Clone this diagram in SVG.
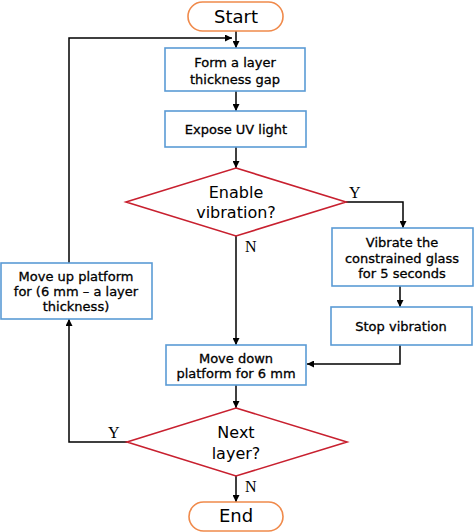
<svg xmlns="http://www.w3.org/2000/svg" width="474" height="532" viewBox="0 0 474 532">
<style>
.term{fill:#fff;stroke:#f08a4b;stroke-width:1.6}
.box{fill:#fff;stroke:#5b9bd5;stroke-width:1.6}
.dia{fill:#fff;stroke:#c8202f;stroke-width:1.6}
.bt{font-family:"DejaVu Sans",Verdana,sans-serif;font-size:13px;fill:#000;stroke:#000;stroke-width:0.3;text-anchor:middle}
.dt{font-family:"DejaVu Sans",Verdana,sans-serif;font-size:16px;fill:#000;text-anchor:middle}
.tt{font-family:"DejaVu Sans",Verdana,sans-serif;font-size:18px;fill:#000;text-anchor:middle}
.lbl{font-family:"Liberation Serif","Times New Roman",serif;font-size:16px;fill:#000}
.cn{fill:none;stroke:#000;stroke-width:1.5}
</style>
<defs>
<marker id="ah" viewBox="0 0 10 10" refX="10" refY="5" markerWidth="7" markerHeight="7" orient="auto" markerUnits="userSpaceOnUse">
<path d="M0,0 L10,5 L0,10 z" fill="#000"/>
</marker>
</defs>
<rect width="474" height="532" fill="#fff"/>
<g id="connectors">
<line class="cn" x1="236" y1="31" x2="236" y2="48" marker-end="url(#ah)"/>
<polyline class="cn" points="69,263 69,38 232,38" marker-end="url(#ah)"/>
<line class="cn" x1="236" y1="91" x2="236" y2="111" marker-end="url(#ah)"/>
<line class="cn" x1="236" y1="147" x2="236" y2="168" marker-end="url(#ah)"/>
<polyline class="cn" points="346,202 403,202 403,228" marker-end="url(#ah)"/>
<line class="cn" x1="236" y1="236" x2="236" y2="345" marker-end="url(#ah)"/>
<line class="cn" x1="400" y1="286" x2="400" y2="307" marker-end="url(#ah)"/>
<polyline class="cn" points="400,345 400,364 307,364" marker-end="url(#ah)"/>
<line class="cn" x1="236" y1="385" x2="236" y2="408" marker-end="url(#ah)"/>
<polyline class="cn" points="127,442 69,442 69,319" marker-end="url(#ah)"/>
<line class="cn" x1="236" y1="476" x2="236" y2="502" marker-end="url(#ah)"/>
<text class="lbl" x="349" y="198">Y</text>
<text class="lbl" x="245" y="252">N</text>
<text class="lbl" x="108" y="438">Y</text>
<text class="lbl" x="245" y="492">N</text>
</g>
<g id="start">
<rect class="term" x="188" y="2" width="95" height="29" rx="14.5"/>
<text class="tt" x="236" y="23">Start</text>
</g>
<g id="form-gap">
<rect class="box" x="165" y="48" width="140" height="43"/>
<text class="bt" x="235" y="67">Form a layer</text>
<text class="bt" x="235" y="84">thickness gap</text>
</g>
<g id="expose-uv">
<rect class="box" x="165" y="111" width="141" height="36"/>
<text class="bt" x="236" y="134">Expose UV light</text>
</g>
<g id="enable-vibration">
<polygon class="dia" points="236,168 346,202 236,236 126,202"/>
<text class="dt" x="236" y="198">Enable</text>
<text class="dt" x="236" y="218">vibration?</text>
</g>
<g id="vibrate-glass">
<rect class="box" x="332" y="228" width="141" height="58"/>
<text class="bt" x="402" y="247">Vibrate the</text>
<text class="bt" x="402" y="263">constrained glass</text>
<text class="bt" x="402" y="278">for 5 seconds</text>
</g>
<g id="stop-vibration">
<rect class="box" x="331" y="307" width="141" height="38"/>
<text class="bt" x="401" y="331">Stop vibration</text>
</g>
<g id="move-down">
<rect class="box" x="166" y="345" width="140" height="40"/>
<text class="bt" x="236" y="363">Move down</text>
<text class="bt" x="236" y="378">platform for 6 mm</text>
</g>
<g id="next-layer">
<polygon class="dia" points="236,408 347,442 236,476 127,442"/>
<text class="dt" x="236" y="438">Next</text>
<text class="dt" x="236" y="459">layer?</text>
</g>
<g id="move-up">
<rect class="box" x="1" y="263" width="151" height="56"/>
<text class="bt" x="76" y="281">Move up platform</text>
<text class="bt" x="76" y="296">for (6 mm – a layer</text>
<text class="bt" x="76" y="311">thickness)</text>
</g>
<g id="end">
<rect class="term" x="189" y="502" width="94" height="29" rx="14.5"/>
<text class="tt" x="236" y="522">End</text>
</g>
</svg>
